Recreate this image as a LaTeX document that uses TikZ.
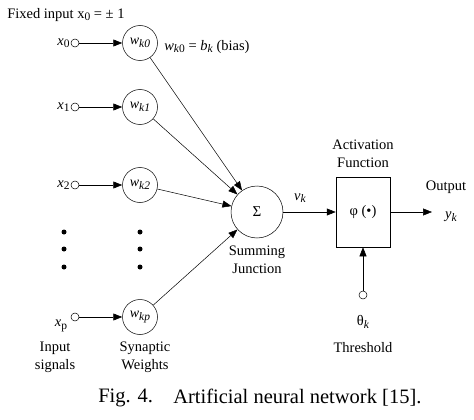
\documentclass[tikz,border=0pt]{standalone}
\usepackage{fontspec}
\setmainfont{Liberation Serif}
\usetikzlibrary{arrows.meta}

\newcommand{\lsub}[1]{\raisebox{-2.5pt}{\fontsize{11.5}{12}\selectfont #1}}

\begin{document}
\begin{tikzpicture}[x=1pt,y=-1pt,line width=0.5pt,
  weight/.style={draw,circle,minimum size=35pt,inner sep=0pt,font=\fontsize{14}{15}\selectfont\itshape},
  port/.style={draw,circle,minimum size=8pt,inner sep=0pt},
  arr/.style={-{Triangle[length=9pt,width=7pt]}},
  lbl/.style={font=\fontsize{14.5}{18}\selectfont,align=center,inner sep=1pt}]
\useasboundingbox (0,0) rectangle (474,420);

% inputs and weights
\foreach \n/\y/\i in {0/43/0,1/107/1,2/185/2,p/317/p} {
  \node[port] (in\n) at (75,\y) {};
  \node[weight] (w\n) at (140,\y) {w\lsub{k\i}};
  \draw[arr] (in\n) -- (w\n);
}
\node[lbl,left] (x0) at (in0.west) {\textit{x}\lsub{0}};
\node[lbl,left] (x1) at (in1.west) {\textit{x}\lsub{1}};
\node[lbl,left] (x2) at (in2.west) {\textit{x}\lsub{2}};
\node[lbl] (xp) at (61,326) {\textit{x}\lsub{p}};

\foreach \y in {232,249,267} {
  \fill (64,\y) circle (2.5pt);
  \fill (140,\y) circle (2.5pt);
}

\node[lbl,anchor=west] (fixed) at (6,15) {Fixed input x\lsub{0} = ± 1};
\node[lbl,anchor=west] (bias) at (163,47) {\textit{w}\lsub{\textit{k}0} = \textit{b}\lsub{\textit{k}} (bias)};

% summing junction
\node[draw,circle,minimum size=52pt,inner sep=0pt,font=\fontsize{15}{16}\selectfont] (sum) at (257,212) {Σ};
\foreach \n in {0,1,2,p}
  \draw[arr] (w\n) -- (sum);
\node[lbl] (sumlbl) at (257,260) {Summing\\Junction};

% activation
\node[draw,minimum width=54pt,minimum height=70pt,inner sep=0pt,font=\fontsize{14.5}{16}\selectfont] (act) at (363,212) {φ (•)};
\draw[arr] (sum) -- (act);
\node[lbl] (vk) at (300,198) {\textit{v}\lsub{\textit{k}}};
\node[lbl] (actlbl) at (363,154) {Activation\\Function};

\coordinate (out) at (432,212);
\draw[arr] (act) -- (out);
\node[lbl] (outlbl) at (446,187) {Output};
\node[lbl] (yk) at (451,217) {\textit{y}\lsub{\textit{k}}};

% threshold
\node[port] (th) at (363,295) {};
\draw[arr] (th) -- (act);
\node[lbl] (thk) at (363,322) {θ\lsub{\textit{k}}};
\node[lbl] (thlbl) at (363,348) {Threshold};

\node[lbl,align=center] (inlbl) at (55,357) {Input\\signals};
\node[lbl,align=center] (wlbl) at (145,357) {Synaptic\\Weights};

% caption
\node[anchor=west,font=\fontsize{20.5}{24}\selectfont,inner sep=0pt] (fig) at (98,398) {Fig. 4.};
\node[anchor=west,font=\fontsize{20.5}{24}\selectfont,inner sep=0pt] (cap) at (173,398) {Artificial neural network [15].};
\end{tikzpicture}
\end{document}
